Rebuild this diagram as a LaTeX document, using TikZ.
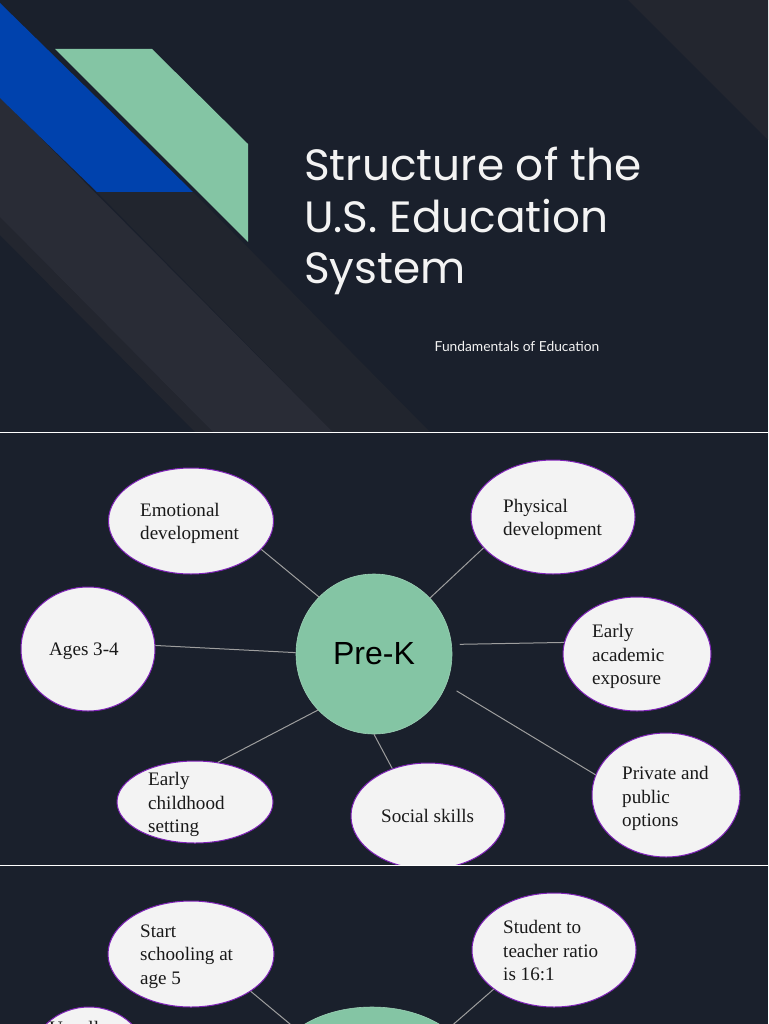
\documentclass[tikz,border=0pt]{standalone}
\usepackage{fontspec}
\setmainfont{Liberation Serif}
\newfontfamily\titlefont{Poppins}
\newfontfamily\subfont{Lato}
\newfontfamily\arialfont{Liberation Sans}
\usetikzlibrary{shapes.geometric}
\definecolor{slidebg}{HTML}{1A202C}
\definecolor{bandlight}{HTML}{292C36}
\definecolor{banddark}{HTML}{21252E}
\definecolor{bandmid}{HTML}{23262F}
\definecolor{mint}{HTML}{84C5A4}
\definecolor{deepblue}{HTML}{0042AD}
\definecolor{bubblefill}{HTML}{F3F3F3}
\definecolor{bubbleline}{HTML}{7F22B8}
\tikzset{
  bubble/.style={ellipse, draw=bubbleline, fill=bubblefill, line width=1pt, inner sep=0pt},
  hub/.style={ellipse, draw=mint!80!white, fill=mint, line width=0.6pt, inner sep=0pt,
              font=\arialfont\fontsize{32}{36}\selectfont, text=black},
  bubbletext/.style={anchor=west, align=left, inner sep=0pt, text=black!90, yshift=-2.5pt,
              font=\fontsize{19.1}{23.5}\selectfont},
  spoke/.style={draw=black!38, line width=1pt},
  divider/.style={draw=white, line width=1pt},
}
\begin{document}
\begin{tikzpicture}[x=1pt,y=-1pt]
  \useasboundingbox (0,0) rectangle (768,1024);
  \fill[slidebg] (0,0) rectangle (768,1024);

  % title slide
  \begin{scope}
    \clip (0,0) rectangle (768,432);
    \fill[bandmid] (628,0) -- (768,140) -- (768,0) -- cycle;
    \fill[bandmid] (0,217) -- (213,432) -- (195,432) -- (0,235) -- cycle;
    \fill[bandlight] (0,97) -- (333,432) -- (213,432) -- (0,217) -- cycle;
    \fill[banddark] (97,192) -- (193,192) -- (430,432) -- (333,432) -- cycle;
    \fill[deepblue] (0,3) -- (193,192) -- (97,192) -- (0,98) -- cycle;
    \fill[mint] (55,49) -- (152,49) -- (248,144) -- (248,242) -- cycle;
  \end{scope}
  \node[anchor=west, align=left, inner sep=0pt, text=bubblefill,
        font=\titlefont\fontsize{43.8}{51.5}\selectfont] (title) at (304,221)
        {Structure of the\\U.S. Education\\System};
  \node[inner sep=0pt, text=bubblefill, font=\subfont\fontsize{13.8}{17}\selectfont] (subtitle) at (517,346)
        {Fundamentals of Education};
  \draw[divider] (0,432.5) -- (768,432.5);

  % pre-k slide
  \begin{scope}
    \clip (0,433) rectangle (768,865);
    \node[hub, minimum width=156pt, minimum height=160pt] (prek) at (374,654) {Pre-K};
    \node[bubble, minimum width=165pt, minimum height=106pt] (emotional) at (191,521) {};
    \node[bubble, minimum width=164pt, minimum height=114pt] (physical) at (553,517) {};
    \node[bubble, minimum width=134pt, minimum height=124pt] (ages) at (88,649) {};
    \node[bubble, minimum width=148pt, minimum height=114pt] (academic) at (637,654) {};
    \node[bubble, minimum width=148pt, minimum height=124pt] (private) at (666,795) {};
    \node[bubble, minimum width=156pt, minimum height=82pt] (childhood) at (195,802) {};
    \node[bubble, minimum width=154pt, minimum height=106pt] (social) at (428,816) {};

    \node[bubbletext] (emotionaltext) at (140,521) {Emotional\\development};
    \node[bubbletext] (physicaltext) at (503,517) {Physical\\development};
    \node[bubbletext] (agestext) at (49,649) {Ages 3-4};
    \node[bubbletext] (academictext) at (592,654) {Early\\academic\\exposure};
    \node[bubbletext] (privatetext) at (622,796) {Private and\\public\\options};
    \node[bubbletext] (childhoodtext) at (148,802) {Early\\childhood\\setting};
    \node[bubbletext] (socialtext) at (381,813.5) {Social skills};

    \draw[spoke] (prek.134) -- (emotional.-22);
    \draw[spoke] (prek.45) -- (physical.204);
    \draw[spoke] (prek.179) -- (ages.3);
    \draw[spoke, shorten <=8pt] (prek.7.5) -- (academic.171.3);
    \draw[spoke, shorten <=12pt] (prek.-23.4) -- (private.164.7);
    \draw[spoke] (prek.225) -- (childhood.60);
    \draw[spoke] (prek.270) -- (social.127);
  \end{scope}
  \draw[divider] (0,865.5) -- (768,865.5);

  % kindergarten slide, cut by the page
  \begin{scope}
    \clip (0,866) rectangle (768,1024);
    \node[hub, minimum width=200pt, minimum height=132pt] (kinder) at (372,1073) {};
    \node[bubble, minimum width=166pt, minimum height=106pt] (start) at (191,954) {};
    \node[bubble, minimum width=164pt, minimum height=114pt] (ratio) at (554,950) {};
    \node[bubble, minimum width=118pt, minimum height=110pt] (usually) at (89,1062) {};

    \node[bubbletext] (starttext) at (140,954) {Start\\schooling at\\age 5};
    \node[bubbletext] (ratiotext) at (503,948) {Student to\\teacher ratio\\is 16:1};
    \node[bubbletext, anchor=base west] (usuallytext) at (49,1031.5) {Usually};

    \draw[spoke] (kinder.150) -- (start.-32);
    \draw[spoke] (kinder.30) -- (ratio.213);
  \end{scope}
\end{tikzpicture}
\end{document}
